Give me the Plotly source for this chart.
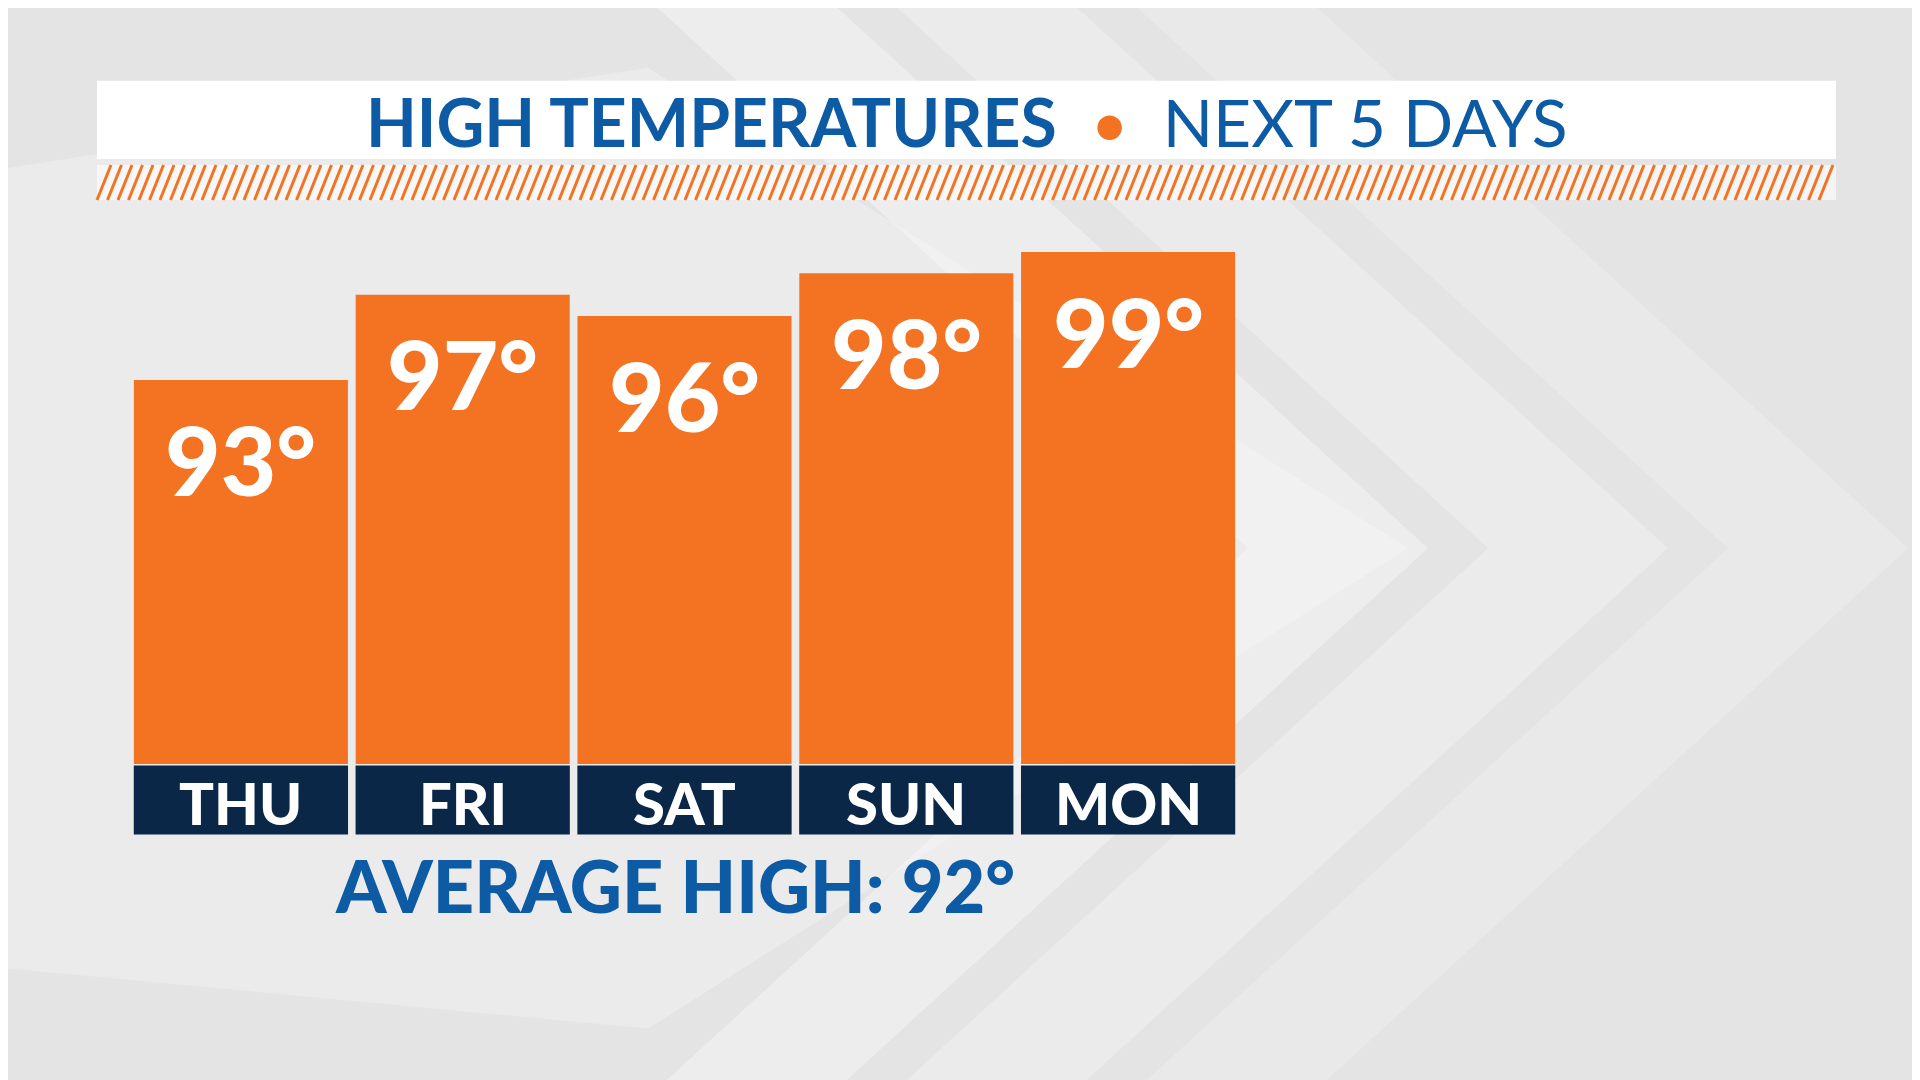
import plotly.graph_objects as go

days = ["THU", "FRI", "SAT", "SUN", "MON"]
highs = [93, 97, 96, 98, 99]
value_labels = ["93°", "97°", "96°", "98°", "99°"]
average_high = 92
title_bold = "HIGH TEMPERATURES"
title_light = "NEXT 5 DAYS"

W, H = 1920, 1080
L, R, T, B = 122, 1231, 244, 755.6
ORANGE = "#f37323"
NAVY = "#0b2748"
BLUE = "#0d5aa5"
BOLD = "Lato Black, Lato, Open Sans"

def px(x):
    return (x - L) / (R - L)

def py(y):
    return (B - y) / (B - T)

fig = go.Figure(go.Bar(x=list(range(len(days))), y=highs, marker_color=ORANGE,
                       marker_line_width=0, hoverinfo="skip"))

shapes = []
for cx, op in [(1420, 0.35), (1660, 0.25), (1900, 0.2)]:
    shapes.append(dict(type="path", xref="paper", yref="paper", layer="below",
                       path=f"M {px(cx-700)},{py(-100)} L {px(cx)},{py(540)} L {px(cx-700)},{py(1180)} "
                            f"L {px(cx-880)},{py(1180)} L {px(cx-180)},{py(540)} L {px(cx-880)},{py(-100)} Z",
                       fillcolor=f"rgba(255,255,255,{op})", line_width=0))
shapes.append(dict(type="path", xref="paper", yref="paper", layer="below",
                   path=f"M {px(0)},{py(160)} L {px(640)},{py(60)} L {px(1400)},{py(540)} L {px(640)},{py(1020)} L {px(0)},{py(960)} Z",
                   fillcolor="rgba(255,255,255,0.25)", line_width=0))
shapes.append(dict(type="rect", xref="paper", yref="paper", x0=px(89), x1=px(1828), y0=py(151), y1=py(73),
                   fillcolor="white", line_width=0))
shapes.append(dict(type="rect", xref="paper", yref="paper", x0=px(89), x1=px(1828), y0=py(192), y1=py(157),
                   fillcolor="rgba(255,255,255,0.6)", line_width=0))
xs = 89
while xs + 14 <= 1828:
    shapes.append(dict(type="line", xref="paper", yref="paper", x0=px(xs), x1=px(xs + 14), y0=py(192), y1=py(157),
                       line=dict(color=ORANGE, width=3)))
    xs += 10.5
for i in range(len(days)):
    shapes.append(dict(type="rect", xref="x", yref="paper", x0=i - 0.483, x1=i + 0.483,
                       y0=py(826), y1=py(757), fillcolor=NAVY, line_width=0))

C = dict(xanchor="center", yanchor="middle", showarrow=False)
ann = []
for i, d in enumerate(days):
    ann.append(dict(x=i, y=py(794), xref="x", yref="paper", text=f"<b>{d}</b>",
                    font=dict(family=BOLD, size=58, color="white"), **C))
    ann.append(dict(x=i, y=highs[i], xref="x", yref="y", yshift=-78, text=f"<b>{value_labels[i]}</b>",
                    font=dict(family=BOLD, size=96, color="white"), **C))
ann.append(dict(x=px(959), y=py(114), xref="paper", yref="paper",
                text=f"<b>{title_bold}</b>  <span style='color:{ORANGE}'>•</span>  {title_light}",
                font=dict(family="Lato, Open Sans", size=66, color=BLUE), **C))
ann.append(dict(x=px(667), y=py(877), xref="paper", yref="paper",
                text=f"<b>AVERAGE HIGH: {average_high}°</b>",
                font=dict(family=BOLD, size=72, color=BLUE), **C))

fig.update_layout(width=W, height=H, margin=dict(l=L, r=W - R, t=T, b=H - B),
                  paper_bgcolor="#e4e4e4", plot_bgcolor="rgba(0,0,0,0)",
                  bargap=0.035, showlegend=False, shapes=shapes, annotations=ann,
                  xaxis=dict(visible=False, range=[-0.5, 4.5]),
                  yaxis=dict(visible=False, range=[75, 99]))
fig.write_html("out.html")
